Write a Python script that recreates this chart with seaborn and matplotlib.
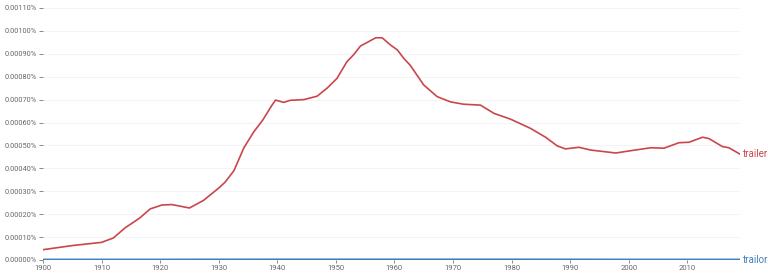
import matplotlib
matplotlib.use("Agg")
import matplotlib.pyplot as plt
import seaborn as sns
import pandas as pd
from matplotlib.ticker import FuncFormatter

years_trailer = [1900, 1905, 1910, 1912, 1914, 1916.5, 1918.3, 1920.3, 1922, 1925, 1927.4,
                 1930, 1931.1, 1932.6, 1934.3, 1936, 1937.5, 1939, 1939.7, 1941.1, 1942.2,
                 1944.5, 1946.8, 1948.5, 1950.2, 1951.9, 1953, 1954.2, 1955.3, 1956.8,
                 1957.9, 1959.3, 1960.5, 1961.6, 1962.7, 1965, 1967.3, 1969.6, 1971.8,
                 1974.7, 1977, 1979.8, 1983.2, 1985.8, 1987.8, 1989.2, 1991.5, 1993.5,
                 1997.8, 2000.3, 2003.8, 2006, 2008.6, 2010.3, 2012.6, 2013.7, 2016,
                 2017.1, 2019]
trailer = [0.000045, 0.000063, 0.000077, 0.000096, 0.000140, 0.000183, 0.000223, 0.000240,
           0.000242, 0.000227, 0.000260, 0.000314, 0.000340, 0.000390, 0.000490, 0.000560,
           0.000610, 0.000672, 0.000698, 0.000688, 0.000697, 0.000700, 0.000715, 0.000750,
           0.000793, 0.000866, 0.000895, 0.000934, 0.000949, 0.000970, 0.000970, 0.000939,
           0.000917, 0.000880, 0.000850, 0.000764, 0.000713, 0.000690, 0.000680, 0.000676,
           0.000640, 0.000615, 0.000575, 0.000536, 0.000498, 0.000485, 0.000492, 0.000480,
           0.000467, 0.000477, 0.000490, 0.000488, 0.000512, 0.000514, 0.000536, 0.000530,
           0.000495, 0.000490, 0.000462]

years_trailor = [1900, 1920, 1940, 1960, 1980, 2000, 2019]
trailor = [0.0000015, 0.0000015, 0.000002, 0.000002, 0.000002, 0.0000015, 0.0000015]

y_ticks = [i * 0.0001 for i in range(12)]
x_ticks = list(range(1900, 2011, 10))

df = pd.concat([
    pd.DataFrame({"year": years_trailer, "value": trailer, "word": "trailer"}),
    pd.DataFrame({"year": years_trailor, "value": trailor, "word": "trailor"}),
])

sns.set_theme(style="white")
plt.rcParams['font.family'] = ['Roboto', 'DejaVu Sans']

colors = {"trailer": "#c9464c", "trailor": "#3f7fbf"}

fig = plt.figure(figsize=(7.68, 2.74), dpi=100)
ax = fig.add_axes([43 / 768, 14 / 274, (740 - 43) / 768, (266 - 14) / 274])

sns.lineplot(data=df, x="year", y="value", hue="word", palette=colors, ax=ax,
             linewidth=1.2, legend=False, sort=True)
for line in ax.get_lines():
    if matplotlib.colors.to_hex(line.get_color()) == colors["trailor"]:
        line.set_linewidth(1.6)

ax.set_xlim(1900, 2019)
ax.set_ylim(0, 0.0011)
ax.set_yticks(y_ticks)
ax.set_xticks(x_ticks)
ax.yaxis.set_major_formatter(FuncFormatter(lambda v, p: f"{v:.5f}%"))
ax.set_xlabel("")
ax.set_ylabel("")
for s in ax.spines.values():
    s.set_visible(False)
ax.grid(axis="y", color="#f4f4f4", linewidth=0.8)
ax.set_axisbelow(True)
ax.tick_params(axis="y", which="major", length=3, width=0.7, color="#888888",
               labelsize=5.3, labelcolor="#666666", pad=1.5, left=True)
ax.tick_params(axis="x", which="major", length=2.5, width=0.7, color="#888888",
               labelsize=5.5, labelcolor="#666666", pad=1, bottom=True)

ax.text(2019.5, trailer[-1], "trailer", color=colors["trailer"], fontsize=7,
        va="center", ha="left", clip_on=False)
ax.text(2019.5, trailor[-1], "trailor", color=colors["trailor"], fontsize=7,
        va="center", ha="left", clip_on=False)

fig.savefig("out.png", dpi=100)
